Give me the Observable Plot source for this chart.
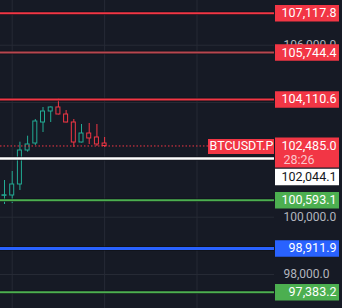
<!DOCTYPE html>
<html><head><meta charset="utf-8">
<script src="https://cdn.jsdelivr.net/npm/d3@7"></script>
<script src="https://cdn.jsdelivr.net/npm/@observablehq/plot@0.6"></script>
<style>
html,body{margin:0;padding:0;background:#161a25;overflow:hidden;}
#chart svg{display:block;}
</style></head><body><div id="chart"></div>
<script>
// ---- data ----
const candleIndex = [0,1,2,3,4,5,6,7,8,9,10,11,12,13];
const candleOpen  = [100745,100757,101141,102327,102571,103304,103688,103828,103583,103304,102606,102920,102781,102571];
const candleHigh  = [101280,101594,102617,102826,103409,103828,103850,104142,103723,103409,103234,103269,103234,102781];
const candleLow   = [100443,100478,100931,102268,102501,102955,103304,103570,103290,102432,102590,102536,102467,102432];
const candleClose = [100765,101141,102327,102537,103339,103688,103828,103583,103304,102606,102920,102746,102537,102485];

const levelValues = [107117.8, 105744.4, 104110.6, 102044.1, 100593.1, 98911.9, 97383.2];
const levelLabels = ["107,117.8","105,744.4","104,110.6","102,044.1","100,593.1","98,911.9","97,383.2"];
const levelKinds  = ["red","darkred","red","white","green","blue","green"];

const lastPrice = 102485.0;
const lastPriceLabel = "102,485.0";
const countdownLabel = "28:26";
const symbolLabel = "BTCUSDT.P";

const gridTicks = [98000, 100000, 102000, 104000, 106000];
const axisLabelTicks = [98000, 100000, 106000];
const timeGridTicks = [1, 13, 25];

// ---- styling / layout ----
const W = 342, H = 308, plotW = 274;
const xDomain = [-0.52, 35.06];
const yDomain = [96814.2, 107560.9];
const xAt = px => xDomain[0] + px * (xDomain[1] - xDomain[0]) / plotW;
const bg = "#161a25";
const up = "#22ab94", down = "#f23645";
const kindStyle = {
  red:     {line: "#f23645", box: "#f23645", text: "#ffffff", w: 2},
  darkred: {line: "#b8464f", box: "#f23645", text: "#ffffff", w: 2},
  white:   {line: "#ffffff", box: "#ffffff", text: "#131722", w: 2.5},
  green:   {line: "#4caf50", box: "#4caf50", text: "#ffffff", w: 2},
  blue:    {line: "#2962ff", box: "#2962ff", text: "#ffffff", w: 3}
};
// label offsets in px (collision shift of 102,044.1 label)
const labelShift = {"102,044.1": 18.4};

const candles = candleIndex.map((i, k) => ({
  i, o: candleOpen[k], h: candleHigh[k], l: candleLow[k], c: candleClose[k],
  color: candleClose[k] >= candleOpen[k] ? up : down
}));
const levels = levelValues.map((v, k) => ({
  v, label: levelLabels[k], ...kindStyle[levelKinds[k]], shift: labelShift[levelLabels[k]] || 0
}));
const hw = 0.26;
const fmt = d3.format(",.1f");

const shiftRender = (sel) => (index, scales, values, dims, ctx, next) => {
  const g = next(index, scales, values, dims, ctx);
  d3.select(g).selectAll(sel).each(function(_, j) {
    const d = levels[index[j]];
    if (d.shift) { const t = d3.select(this); const tr = t.attr("transform") || ""; t.attr("transform", tr + ` translate(0,${d.shift})`); }
  });
  return g;
};

const chart = Plot.plot({
  width: W, height: H,
  marginTop: 0, marginBottom: 0, marginLeft: 0, marginRight: W - plotW,
  style: {background: bg, fontFamily: "Roboto", fontSize: "12px", color: "#b2b5be"},
  x: {domain: xDomain, axis: null},
  y: {domain: yDomain, axis: null},
  marks: [
    Plot.ruleX(timeGridTicks, {stroke: "#262a35", strokeWidth: 1}),
    Plot.ruleY(gridTicks, {stroke: "#262a35", strokeWidth: 1}),
    Plot.axisY(axisLabelTicks, {anchor: "right", tickSize: 0, tickPadding: 9, tickFormat: fmt, fill: "#b2b5be", fontSize: 12, label: null}),
    // wicks
    Plot.ruleX(candles, {x: "i", y1: "l", y2: "h", stroke: "color", strokeWidth: 1}),
    // hollow bodies
    Plot.rect(candles, {x1: d => d.i - hw, x2: d => d.i + hw,
      y1: d => Math.min(d.o, d.c), y2: d => Math.max(d.o, d.c),
      fill: bg, stroke: "color", strokeWidth: 1}),
    // last price dotted line
    Plot.ruleY([lastPrice], {x1: xDomain[0], x2: xAt(208), stroke: "#f23645", strokeWidth: 1, strokeDasharray: "1.5,2"}),
    // level lines (outline then core)
    Plot.ruleY(levels, {y: "v", x1: xDomain[0], x2: xAt(274), stroke: "#0e1017", strokeWidth: d => d.w + 1.5, strokeOpacity: 0.8}),
    Plot.ruleY(levels, {y: "v", x1: xDomain[0], x2: xAt(274), stroke: d => d.line, strokeWidth: d => d.w}),
    // label boxes
    Plot.ruleY(levels, {y: "v", x1: xAt(275), x2: xAt(339), stroke: d => d.box, strokeWidth: 16.5, render: shiftRender("line")}),
    Plot.ruleY([lastPrice], {x1: xAt(275), x2: xAt(339), stroke: "#f23645", strokeWidth: 30, dy: 6.5}),
    Plot.ruleY([lastPrice], {x1: xAt(208), x2: xAt(274), stroke: "#f23645", strokeWidth: 15, dy: 0.5}),
    // label texts
    Plot.text(levels, {y: "v", x: xAt(336), text: "label", fill: d => d.text, textAnchor: "end", fontSize: 12.5, render: shiftRender("text")}),
    Plot.text([lastPrice], {y: d => d, x: xAt(336), text: [lastPriceLabel], fill: "#ffffff", textAnchor: "end", fontSize: 12.5}),
    Plot.text([lastPrice], {y: d => d, x: xAt(336), text: [countdownLabel], fill: "#fbc6cb", textAnchor: "start", dx: -53, dy: 14, fontSize: 12.5}),
    Plot.text([lastPrice], {y: d => d, x: xAt(241), text: [symbolLabel], fill: "#ffffff", textAnchor: "middle", dy: 0.5, fontSize: 12.5})
  ]
});
document.getElementById("chart").appendChild(chart);
</script></body></html>
